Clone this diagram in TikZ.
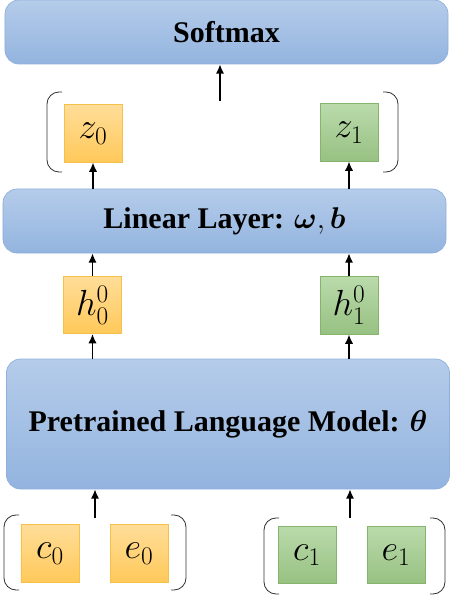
\RequirePackage{fix-cm}
\documentclass[tikz,border=0pt]{standalone}
\usepackage{fontspec}
\usepackage{amsmath}
\usepackage{bm}
\setmainfont{Liberation Serif}
\usetikzlibrary{arrows.meta}

\definecolor{bluetop}{HTML}{B5CCEA}
\definecolor{bluebot}{HTML}{93B4DF}
\definecolor{blueline}{HTML}{8EB0DB}
\definecolor{oratop}{HTML}{FFDD98}
\definecolor{orabot}{HTML}{FFC95A}
\definecolor{oraline}{HTML}{F5C14A}
\definecolor{gretop}{HTML}{BADAAB}
\definecolor{grebot}{HTML}{97C182}
\definecolor{greline}{HTML}{85B56C}

\tikzset{
    layer/.style={draw=blueline, top color=bluetop, bottom color=bluebot,
        rounded corners=0.42cm, line width=0.6pt, minimum width=13.29cm,
        font=\fontsize{25.6}{30}\selectfont\bfseries},
    orabox/.style={draw=oraline, top color=oratop, bottom color=orabot,
        line width=0.6pt, minimum width=1.74cm, minimum height=1.72cm,
        font=\fontsize{31}{36}\selectfont},
    grebox/.style={draw=greline, top color=gretop, bottom color=grebot,
        line width=0.6pt, minimum width=1.74cm, minimum height=1.72cm,
        font=\fontsize{31}{36}\selectfont},
    arr/.style={line width=1.3pt, -{Latex[length=2.8mm,width=2.5mm]}},
    brack/.style={draw=black!80, line width=0.7pt, rounded corners=0.36cm}
}

\begin{document}
\begin{tikzpicture}[x=0.03cm, y=-0.03cm]

    \useasboundingbox (0,0) rectangle (450,599);

    % layers
    \node[layer, minimum height=1.92cm] (softmax) at (226.5,32) {Softmax};
    \node[layer, minimum height=1.92cm] (linear) at (224.5,221) {Linear Layer: $\boldsymbol{\omega}, \boldsymbol{b}$};
    \node[layer, minimum height=3.9cm] (plm) at (228,424) {Pretrained Language Model: $\boldsymbol{\theta}$};

    % logits
    \node[orabox] (z0) at (93,133.5) {$z_0$};
    \node[grebox] (z1) at (349,132.5) {$z_1$};

    % hidden states
    \node[orabox] (h0) at (92.5,305) {$h_0^0$};
    \node[grebox] (h1) at (349,305.5) {$h_1^0$};

    % inputs
    \node[orabox] (c0) at (50,553.5) {$c_0$};
    \node[orabox] (e0) at (139,553.5) {$e_0$};
    \node[grebox] (c1) at (307,555) {$c_1$};
    \node[grebox] (e1) at (396,555) {$e_1$};

    % brackets
    \draw[brack] (62,92) -- (47,92) -- (47,172) -- (62,172);
    \draw[brack] (383,92) -- (398,92) -- (398,172) -- (383,172);
    \draw[brack] (19,515) -- (4,515) -- (4,590) -- (19,590);
    \draw[brack] (171,515) -- (186,515) -- (186,590) -- (171,590);
    \draw[brack] (279,518) -- (264,518) -- (264,594) -- (279,594);
    \draw[brack] (430,518) -- (445,518) -- (445,594) -- (430,594);

    % arrows
    \coordinate (out) at (220,101);
    \coordinate (in0) at (95,518);
    \coordinate (in1) at (350,518);
    \draw[arr] (out) -- (out |- softmax.south);
    \draw[arr] (linear.north -| z0.south) -- (z0.south);
    \draw[arr] (linear.north -| z1.south) -- (z1.south);
    \draw[arr] (h0.north) -- (h0.north |- linear.south);
    \draw[arr] (h1.north) -- (h1.north |- linear.south);
    \draw[arr] (plm.north -| h0.south) -- (h0.south);
    \draw[arr] (plm.north -| h1.south) -- (h1.south);
    \draw[arr] (in0) -- (in0 |- plm.south);
    \draw[arr] (in1) -- (in1 |- plm.south);

\end{tikzpicture}
\end{document}
